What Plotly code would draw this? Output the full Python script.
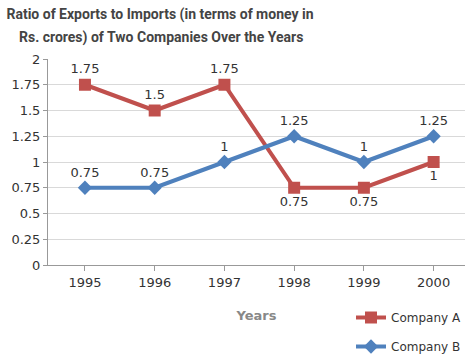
import plotly.graph_objects as go

years = ["1995", "1996", "1997", "1998", "1999", "2000"]
company_a = [1.75, 1.5, 1.75, 0.75, 0.75, 1.0]
company_b = [0.75, 0.75, 1.0, 1.25, 1.0, 1.25]
a_labels = ["1.75", "1.5", "1.75", "0.75", "0.75", "1"]
b_labels = ["0.75", "0.75", "1", "1.25", "1", "1.25"]
y_ticks = [0, 0.25, 0.5, 0.75, 1, 1.25, 1.5, 1.75, 2]
y_ticktext = ["0", "0.25", "0.5", "0.75", "1", "1.25", "1.5", "1.75", "2"]

xs = list(range(len(years)))
red = "#C0504D"
blue = "#4F81BD"

W, H = 474, 357
L, R, T, B = 48, 9, 59, 92
PW, PH = W - L - R, H - T - B

fig = go.Figure()
fig.add_trace(go.Scatter(
    x=xs, y=company_a, name="Company A", mode="lines+markers+text",
    line=dict(color=red, width=4),
    marker=dict(symbol="square", size=12, color=red),
    text=a_labels,
    textposition=["top center", "top center", "top center", "bottom center", "bottom center", "bottom center"],
    textfont=dict(family="DejaVu Sans", size=13, color="#333333"),
    legendgroup="a",
))
fig.add_trace(go.Scatter(
    x=xs, y=company_b, name="Company B", mode="lines+markers+text",
    line=dict(color=blue, width=4),
    marker=dict(symbol="diamond", size=11, color=blue),
    text=b_labels,
    textposition="top center",
    textfont=dict(family="DejaVu Sans", size=13, color="#333333"),
    legendgroup="b",
))

title_font = dict(family="Roboto", size=14, color="#444444")
fig.update_layout(
    width=W, height=H,
    margin=dict(l=L, r=R, t=T, b=B, autoexpand=False),
    paper_bgcolor="white", plot_bgcolor="white",
    title=dict(
        text="<b>Ratio of Exports to Imports (in terms of money in</b>",
        x=160 / W, xanchor="center", y=1 - 14 / H, yref="container", yanchor="middle",
        font=title_font,
    ),
    annotations=[dict(
        text="<b>Rs. crores) of Two Companies Over the Years</b>",
        xref="paper", yref="paper", x=(161 - L) / PW, y=(T + PH - 37) / PH,
        xanchor="center", yanchor="middle", showarrow=False, font=title_font,
    )],
    font=dict(family="DejaVu Sans", size=13, color="#333333"),
    showlegend=True,
    legend=dict(
        x=(351 - L) / PW, xanchor="left", y=(T + PH - 303) / PH, yanchor="top",
        font=dict(family="DejaVu Sans", size=12, color="#333333"),
        tracegroupgap=10, bgcolor="rgba(0,0,0,0)",
    ),
    xaxis=dict(
        range=[-0.53, 5.45], tickvals=xs, ticktext=years,
        showgrid=False, showline=True, linecolor="#999999", linewidth=1,
        ticks="outside", ticklen=5, tickcolor="#999999",
        zeroline=False, automargin=False,
        title=dict(text="<b>Years</b>", font=dict(family="DejaVu Sans", size=13, color="#888888"), standoff=22),
    ),
    yaxis=dict(
        range=[0, 2], tickvals=y_ticks, ticktext=y_ticktext,
        showgrid=True, gridcolor="#D9D9D9", gridwidth=1,
        showline=True, linecolor="#999999", linewidth=1,
        ticks="outside", ticklen=4, tickcolor="#999999",
        zeroline=False, automargin=False,
    ),
)

fig.write_html("out.html", config={"displayModeBar": False},
               post_script="document.body.style.margin='0';")
